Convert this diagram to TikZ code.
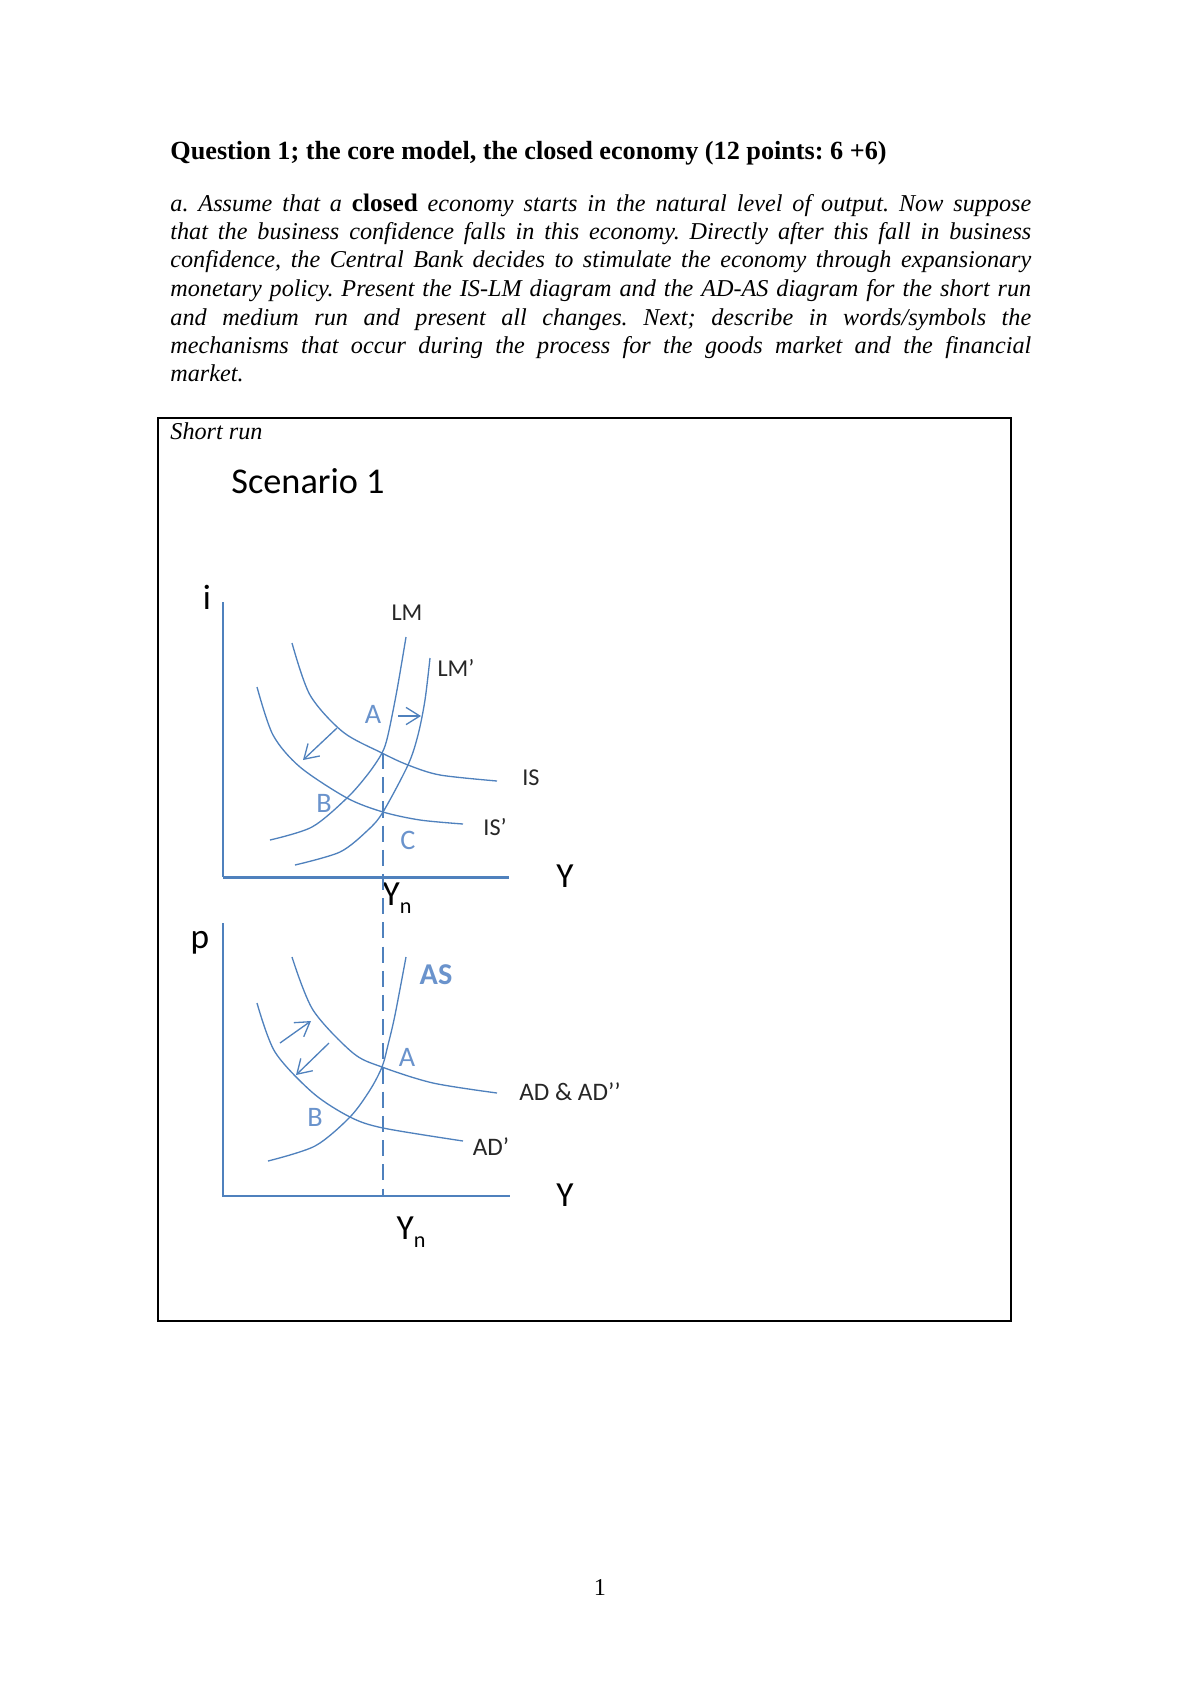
\documentclass[tikz,border=0pt]{standalone}
\usepackage{fontspec}
\setmainfont{Liberation Serif}
\newfontfamily\carl{Carlito}
\usetikzlibrary{arrows.meta}
\definecolor{curveblue}{HTML}{4F81BD}
\definecolor{labblue}{HTML}{6A93CC}
\newcommand\jline[1]{\hbox to 427pt{#1}}
\frenchspacing
\begin{document}
\begin{tikzpicture}[x=0.496pt,y=-0.496pt,
  bodytext/.style={inner sep=0pt,anchor=base west,font=\fontsize{12}{14}\selectfont\itshape},
  curve/.style={draw=curveblue,line width=0.65pt},
  axis/.style={draw=curveblue,line width=1.1pt},
  shiftarrow/.style={draw=curveblue,line width=0.65pt,-{Straight Barb[length=2.4mm,width=3mm]}},
  axlab/.style={font=\carl\fontsize{17.5}{18}\selectfont,text=black,inner sep=0pt},
  curvelab/.style={font=\carl\fontsize{12}{12}\selectfont,text=black!85,inner sep=0pt},
  ptlab/.style={font=\carl\fontsize{14}{14}\selectfont,text=labblue,inner sep=0pt}]
\useasboundingbox (0,0) rectangle (1200,1698);
\fill[white] (0,0) rectangle (1200,1698);
% header text
\node[bodytext,font=\fontsize{13}{15}\selectfont\bfseries] (title) at (170,159) {Question 1; the core model, the closed economy (12 points: 6 +6)};
\node[bodytext] (l1) at (170,211) {\jline{a. Assume that a {\upshape\bfseries\fontsize{12.5}{14}\selectfont closed} economy starts in the natural level of output. Now suppose}};
\node[bodytext] (l2) at (170,239) {\jline{that the business confidence falls in this economy. Directly after this fall in business}};
\node[bodytext] (l3) at (170,267) {\jline{confidence, the Central Bank decides to stimulate the economy through expansionary}};
\node[bodytext] (l4) at (170,296) {\jline{monetary policy. Present the IS-LM diagram and the AD-AS diagram for the short run}};
\node[bodytext] (l5) at (170,325) {\jline{and medium run and present all changes. Next; describe in words/symbols the}};
\node[bodytext] (l6) at (170,353) {\jline{mechanisms that occur during the process for the goods market and the financial}};
\node[bodytext] (l7) at (170,381) {market.};
% frame
\draw[line width=1pt] (158,418) rectangle (1011,1321);
\node[bodytext] (short) at (170,439) {Short run};
\node[inner sep=0pt,anchor=base west,font=\carl\fontsize{18}{18}\selectfont] (scen) at (231,493) {Scenario 1};
% ---- IS-LM panel ----
\draw[axis] (223,602) -- (223,877);
\draw[axis,line width=1.5pt] (223,877) -- (509,877);
\node[axlab] (ilab) at (207,597) {i};
\node[axlab] (ylab1) at (565,876) {Y};
\node[axlab] (yn1) at (397,898) {Y\raisebox{-0.45ex}{\fontsize{11}{11}\selectfont n}};
\draw[curve] plot[smooth] coordinates {(270,840) (312,827) (347,798) (368,774) (382,753) (388,735) (397,690) (406,637)};
\draw[curve] plot[smooth] coordinates {(295,865) (340,852) (368,830) (383,812) (408,765) (418,735) (425,700) (430,658)};
\draw[curve] plot[smooth] coordinates {(292,643) (310,695) (343,732) (382,753) (408,765) (440,775) (497,781)};
\draw[curve] plot[smooth] coordinates {(257,687) (273,735) (300,767) (347,798) (383,812) (420,820) (463,824)};
\draw[curve,dash pattern=on 8pt off 4pt] (383,753) -- (383,1196);
\node[curvelab] (lm) at (407,613) {LM};
\node[curvelab] (lmp) at (456,668) {LM’};
\node[curvelab] (is) at (531,778) {IS};
\node[curvelab] (isp) at (495,827) {IS’};
\node[ptlab] (ptA1) at (373,714) {A};
\node[ptlab] (ptB1) at (324,803) {B};
\node[ptlab] (ptC1) at (408,840) {C};
\coordinate (isarrS) at (337,728);
\coordinate (isarrE) at (303,760);
\coordinate (lmarrS) at (398,716);
\coordinate (lmarrE) at (421,716);
\draw[shiftarrow] (isarrS) -- (isarrE);
\draw[shiftarrow] (lmarrS) -- (lmarrE);
% ---- AD-AS panel ----
\draw[axis] (223,923) -- (223,1196) -- (510,1196);
\node[axlab] (plab) at (200,943) {p};
\node[axlab] (ylab2) at (565,1195) {Y};
\node[axlab] (yn2) at (411,1232) {Y\raisebox{-0.45ex}{\fontsize{11}{11}\selectfont n}};
\draw[curve] plot[smooth] coordinates {(268,1161) (315,1146) (350,1117) (370,1090) (382,1067) (388,1045) (395,1015) (406,957)};
\draw[curve] plot[smooth] coordinates {(292,957) (313,1010) (353,1053) (382,1067) (433,1083) (497,1093)};
\draw[curve] plot[smooth] coordinates {(257,1003) (275,1052) (313,1093) (350,1117) (383,1128) (463,1141)};
\node[font=\carl\bfseries\fontsize{15}{15}\selectfont,text=labblue,inner sep=0pt] (aslab) at (436,975) {AS};
\node[font=\carl\fontsize{12.5}{13}\selectfont,text=black!85,inner sep=0pt] (adlab) at (570,1092) {AD \& AD’’};
\node[font=\carl\fontsize{12.5}{13}\selectfont,text=black!85,inner sep=0pt] (adplab) at (491,1147) {AD’};
\node[ptlab] (ptA2) at (407,1057) {A};
\node[ptlab] (ptB2) at (315,1117) {B};
\coordinate (uparrS) at (280,1043);
\coordinate (uparrE) at (311,1021);
\coordinate (dnarrS) at (329,1043);
\coordinate (dnarrE) at (296,1075);
\draw[shiftarrow] (uparrS) -- (uparrE);
\draw[shiftarrow] (dnarrS) -- (dnarrE);
% page number
\node[inner sep=0pt,anchor=base,font=\fontsize{12}{14}\selectfont] (pagenum) at (600,1595) {1};
\end{tikzpicture}
\end{document}
